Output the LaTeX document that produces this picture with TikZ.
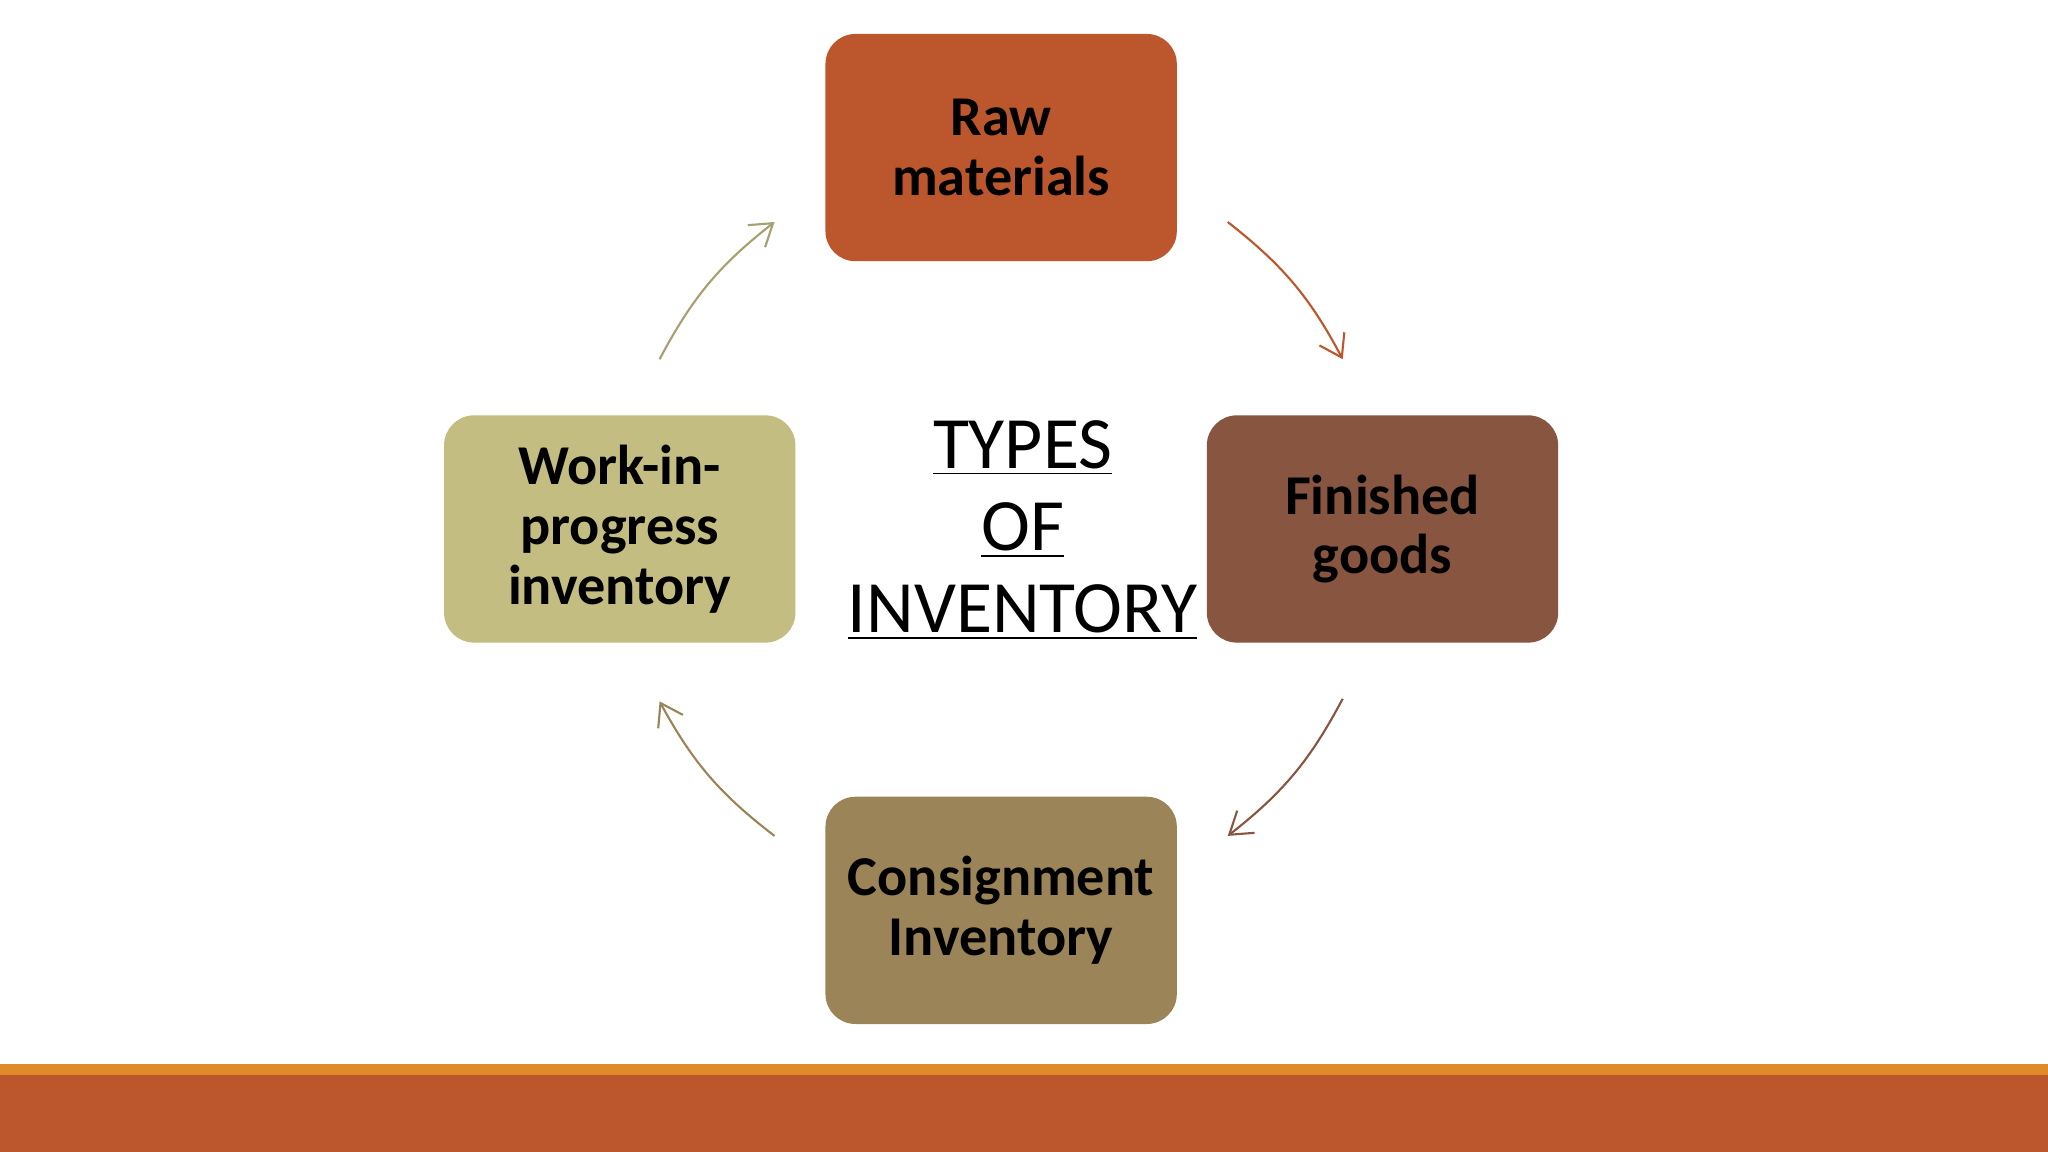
\documentclass[tikz,border=0pt]{standalone}
\usepackage{fontspec}
\setmainfont{Carlito}
\usetikzlibrary{arrows.meta}
\definecolor{rawc}{HTML}{BC562D}
\definecolor{finc}{HTML}{875540}
\definecolor{conc}{HTML}{9A8458}
\definecolor{wipc}{HTML}{C3BD82}
\definecolor{barline}{HTML}{E08A2A}
\tikzset{
  box/.style={rounded corners=0.3cm, minimum width=269*0.013061cm, minimum height=174*0.013061cm, align=center, font=\fontsize{16}{17}\selectfont\bfseries, text=black, inner sep=0pt},
  conn/.style={-{Straight Barb[length=6pt,width=8pt]}, line width=0.6pt}
}
\begin{document}
\begin{tikzpicture}[x=0.013061cm,y=-0.013061cm]
\useasboundingbox (0,0) rectangle (1568,882);
\fill[white] (0,0) rectangle (1568,882);
\fill[barline] (0,815) rectangle (1568,823);
\fill[rawc] (0,823) rectangle (1568,882);
\node[box, fill=rawc] (raw) at (766.5,113) {Raw\\materials};
\node[box, fill=finc] (fin) at (1058.5,405) {Finished\\goods};
\node[box, fill=conc] (con) at (766.5,697) {Consignment\\Inventory};
\node[box, fill=wipc] (wip) at (474.5,405) {Work-in-\\progress\\inventory};
\node[align=center, font=\fontsize{21}{23.4}\selectfont] (ctr) at (783,406) {\underline{TYPES}\\\underline{OF}\\\underline{INVENTORY}};
\coordinate (a1) at (940,170); \coordinate (a2) at (1028,275);
\coordinate (b1) at (1028,535); \coordinate (b2) at (940,640);
\coordinate (c1) at (593,640); \coordinate (c2) at (505,537);
\coordinate (d1) at (505,275); \coordinate (d2) at (593,170);
\draw[conn, color=rawc] (a1) to[bend left=12] (a2);
\draw[conn, color=finc] (b1) to[bend left=12] (b2);
\draw[conn, color=conc] (c1) to[bend left=12] (c2);
\draw[conn, color=wipc!85!black] (d1) to[bend left=12] (d2);
\end{tikzpicture}
\end{document}
